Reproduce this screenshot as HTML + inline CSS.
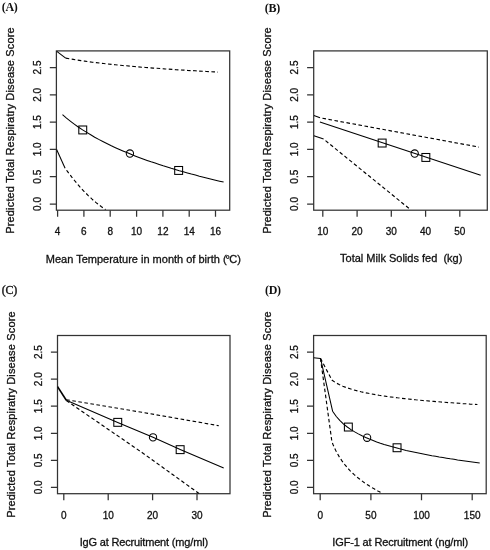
<!DOCTYPE html>
<html><head><meta charset="utf-8"><title>Figure</title>
<style>
html,body{margin:0;padding:0;background:#fff}
svg{display:block}
.t{font-family:"Liberation Sans",Arial,Helvetica,sans-serif;font-size:10px;fill:#111;stroke:#111;stroke-width:0.3px}
.l{font-family:"Liberation Sans",Arial,Helvetica,sans-serif;font-size:11px;fill:#111;stroke:#111;stroke-width:0.3px}
.p{font-family:"Liberation Serif","Times New Roman",serif;font-size:12px;letter-spacing:-0.3px;fill:#111}
</style></head><body>
<svg width="490" height="550" viewBox="0 0 490 550">
<rect width="490" height="550" fill="#fff"/>
<rect x="56.4" y="50.9" width="173.3" height="159.3" fill="none" stroke="#333" stroke-width="1.25"/>
<text class="t" transform="translate(40.6 204.0) rotate(-90)" text-anchor="middle">0.0</text>
<text class="t" transform="translate(40.6 176.7) rotate(-90)" text-anchor="middle">0.5</text>
<text class="t" transform="translate(40.6 149.4) rotate(-90)" text-anchor="middle">1.0</text>
<text class="t" transform="translate(40.6 122.1) rotate(-90)" text-anchor="middle">1.5</text>
<text class="t" transform="translate(40.6 94.8) rotate(-90)" text-anchor="middle">2.0</text>
<text class="t" transform="translate(40.6 67.5) rotate(-90)" text-anchor="middle">2.5</text>
<text class="t" x="57.6" y="235" text-anchor="middle">4</text>
<text class="t" x="83.9" y="235" text-anchor="middle">6</text>
<text class="t" x="110.2" y="235" text-anchor="middle">8</text>
<text class="t" x="136.6" y="235" text-anchor="middle">10</text>
<text class="t" x="162.9" y="235" text-anchor="middle">12</text>
<text class="t" x="189.2" y="235" text-anchor="middle">14</text>
<text class="t" x="215.5" y="235" text-anchor="middle">16</text>
<path d="M49.8 204.0H56.4M49.8 176.7H56.4M49.8 149.4H56.4M49.8 122.1H56.4M49.8 94.8H56.4M49.8 67.5H56.4M57.6 210.2V216.8M83.9 210.2V216.8M110.2 210.2V216.8M136.6 210.2V216.8M162.9 210.2V216.8M189.2 210.2V216.8M215.5 210.2V216.8" fill="none" stroke="#333" stroke-width="1.25"/>
<text class="l" transform="translate(14.3 130.5) rotate(-90)" text-anchor="middle" textLength="206.5" lengthAdjust="spacing">Predicted Total Respiratry Disease Score</text>
<text class="l" x="45.8" y="262.5" text-anchor="start" xml:space="preserve">Mean Temperature in month of birth (<tspan dx="-1.0">°</tspan><tspan dx="-0.8">C)</tspan></text>
<text class="p" x="1.8" y="11.2" font-weight="bold">(A)</text>
<clipPath id="cA"><rect x="56.4" y="50.9" width="173.3" height="159.3"/></clipPath><g clip-path="url(#cA)">
<path d="M62.5 114.7 L66.5 118.1 L70.6 121.3 L74.6 124.3 L78.6 127.2 L82.6 129.9 L86.7 132.4 L90.7 134.8 L94.7 137.2 L98.7 139.4 L102.8 141.5 L106.8 143.5 L110.8 145.5 L114.9 147.4 L118.9 149.2 L122.9 150.9 L126.9 152.6 L131.0 154.3 L135.0 155.9 L139.0 157.4 L143.1 158.9 L147.1 160.4 L151.1 161.8 L155.1 163.1 L159.2 164.5 L163.2 165.8 L167.2 167.0 L171.2 168.3 L175.3 169.5 L179.3 170.7 L183.3 171.8 L187.4 172.9 L191.4 174.1 L195.4 175.1 L199.4 176.2 L203.5 177.2 L207.5 178.2 L211.5 179.2 L215.5 180.2 L219.6 181.2 L223.6 182.1" fill="none" stroke="#000" stroke-width="1.05" stroke-linejoin="round"/>
<path d="M56.5 51.2 L65.7 58.1" fill="none" stroke="#000" stroke-width="1.05" stroke-linejoin="round"/>
<path d="M65.7 58.1 L69.5 58.8 L73.3 59.4 L77.1 60.0 L80.9 60.6 L84.7 61.1 L88.5 61.7 L92.3 62.2 L96.1 62.6 L99.9 63.1 L103.8 63.5 L107.6 64.0 L111.4 64.4 L115.2 64.7 L119.0 65.1 L122.8 65.5 L126.6 65.8 L130.4 66.2 L134.2 66.5 L138.0 66.9 L141.8 67.2 L145.6 67.5 L149.4 67.8 L153.2 68.1 L157.0 68.3 L160.8 68.6 L164.6 68.9 L168.4 69.1 L172.2 69.4 L176.0 69.7 L179.9 69.9 L183.7 70.1 L187.5 70.4 L191.3 70.6 L195.1 70.8 L198.9 71.1 L202.7 71.3 L206.5 71.5 L210.3 71.7 L214.1 71.9 L217.9 72.1" fill="none" stroke="#000" stroke-width="1.15" stroke-dasharray="3.6 2.5" stroke-dashoffset="0"/>
<path d="M56.5 149.2 L65.1 168.2" fill="none" stroke="#000" stroke-width="1.05" stroke-linejoin="round"/>
<path d="M65.1 168.2 L66.4 170.0 L67.8 171.9 L69.1 173.7 L70.5 175.4 L71.8 177.2 L73.2 178.9 L74.5 180.5 L75.9 182.2 L77.2 183.8 L78.6 185.3 L79.9 186.9 L81.3 188.4 L82.6 189.8 L84.0 191.3 L85.3 192.7 L86.7 194.0 L88.0 195.4 L89.4 196.7 L90.8 197.9 L92.1 199.2 L93.4 200.4 L94.8 201.5 L96.1 202.6 L97.5 203.7 L98.8 204.8 L100.2 205.8 L101.5 206.8 L102.9 207.8 L104.2 208.7 L105.6 209.6" fill="none" stroke="#000" stroke-width="1.15" stroke-dasharray="3.6 2.5" stroke-dashoffset="3.6"/>
</g>
<rect x="78.8" y="126.0" width="7.9" height="7.9" fill="none" stroke="#000" stroke-width="1.05"/>
<circle cx="129.9" cy="153.5" r="3.65" fill="none" stroke="#000" stroke-width="1.05"/>
<rect x="174.7" y="166.5" width="7.9" height="7.9" fill="none" stroke="#000" stroke-width="1.05"/>
<rect x="313.7" y="50.9" width="173.6" height="159.3" fill="none" stroke="#333" stroke-width="1.25"/>
<text class="t" transform="translate(297.8 204.0) rotate(-90)" text-anchor="middle">0.0</text>
<text class="t" transform="translate(297.8 176.7) rotate(-90)" text-anchor="middle">0.5</text>
<text class="t" transform="translate(297.8 149.4) rotate(-90)" text-anchor="middle">1.0</text>
<text class="t" transform="translate(297.8 122.1) rotate(-90)" text-anchor="middle">1.5</text>
<text class="t" transform="translate(297.8 94.8) rotate(-90)" text-anchor="middle">2.0</text>
<text class="t" transform="translate(297.8 67.5) rotate(-90)" text-anchor="middle">2.5</text>
<text class="t" x="322.8" y="235" text-anchor="middle">10</text>
<text class="t" x="357.1" y="235" text-anchor="middle">20</text>
<text class="t" x="391.3" y="235" text-anchor="middle">30</text>
<text class="t" x="425.6" y="235" text-anchor="middle">40</text>
<text class="t" x="459.8" y="235" text-anchor="middle">50</text>
<path d="M307.1 204.0H313.7M307.1 176.7H313.7M307.1 149.4H313.7M307.1 122.1H313.7M307.1 94.8H313.7M307.1 67.5H313.7M322.8 210.2V216.8M357.1 210.2V216.8M391.3 210.2V216.8M425.6 210.2V216.8M459.8 210.2V216.8" fill="none" stroke="#333" stroke-width="1.25"/>
<text class="l" transform="translate(271.0 130.5) rotate(-90)" text-anchor="middle" textLength="206.5" lengthAdjust="spacing">Predicted Total Respiratry Disease Score</text>
<text class="l" x="401.2" y="262" text-anchor="middle" textLength="122.3" lengthAdjust="spacing" xml:space="preserve">Total Milk Solids fed  (kg)</text>
<text class="p" x="264.8" y="11.6" font-weight="bold">(B)</text>
<clipPath id="cB"><rect x="313.7" y="50.9" width="173.6" height="159.3"/></clipPath><g clip-path="url(#cB)">
<path d="M319.9 122.0 L480.7 175.3" fill="none" stroke="#000" stroke-width="1.05" stroke-linejoin="round"/>
<path d="M313.9 115.6 L320.0 117.8" fill="none" stroke="#000" stroke-width="1.05" stroke-linejoin="round"/>
<path d="M320.0 117.8 L479.0 147.1" fill="none" stroke="#000" stroke-width="1.15" stroke-dasharray="3.6 2.5" stroke-dashoffset="3.6"/>
<path d="M313.9 135.8 L323.6 139.1" fill="none" stroke="#000" stroke-width="1.05" stroke-linejoin="round"/>
<path d="M323.6 139.1 L410.7 209.8" fill="none" stroke="#000" stroke-width="1.15" stroke-dasharray="3.6 2.5" stroke-dashoffset="3.6"/>
</g>
<rect x="378.2" y="139.1" width="7.9" height="7.9" fill="none" stroke="#000" stroke-width="1.05"/>
<circle cx="414.7" cy="153.5" r="3.65" fill="none" stroke="#000" stroke-width="1.05"/>
<rect x="421.9" y="153.5" width="7.9" height="7.9" fill="none" stroke="#000" stroke-width="1.05"/>
<rect x="57.5" y="335.5" width="172.5" height="158.2" fill="none" stroke="#333" stroke-width="1.25"/>
<text class="t" transform="translate(41.8 487.4) rotate(-90)" text-anchor="middle">0.0</text>
<text class="t" transform="translate(41.8 460.3) rotate(-90)" text-anchor="middle">0.5</text>
<text class="t" transform="translate(41.8 433.3) rotate(-90)" text-anchor="middle">1.0</text>
<text class="t" transform="translate(41.8 406.2) rotate(-90)" text-anchor="middle">1.5</text>
<text class="t" transform="translate(41.8 379.2) rotate(-90)" text-anchor="middle">2.0</text>
<text class="t" transform="translate(41.8 352.1) rotate(-90)" text-anchor="middle">2.5</text>
<text class="t" x="63.8" y="518.6" text-anchor="middle">0</text>
<text class="t" x="108.2" y="518.6" text-anchor="middle">10</text>
<text class="t" x="152.6" y="518.6" text-anchor="middle">20</text>
<text class="t" x="197.0" y="518.6" text-anchor="middle">30</text>
<path d="M50.9 487.4H57.5M50.9 460.3H57.5M50.9 433.3H57.5M50.9 406.2H57.5M50.9 379.2H57.5M50.9 352.1H57.5M63.8 493.7V500.3M108.2 493.7V500.3M152.6 493.7V500.3M197.0 493.7V500.3" fill="none" stroke="#333" stroke-width="1.25"/>
<text class="l" transform="translate(15.0 414.6) rotate(-90)" text-anchor="middle" textLength="206.5" lengthAdjust="spacing">Predicted Total Respiratry Disease Score</text>
<text class="l" x="143.9" y="545.6" text-anchor="middle" textLength="128.4" lengthAdjust="spacing" xml:space="preserve">IgG at Recruitment (mg/ml)</text>
<text class="p" x="1.8" y="293.5" font-weight="normal" stroke="#111" stroke-width="0.35">(C)</text>
<clipPath id="cC"><rect x="57.5" y="335.5" width="172.5" height="158.2"/></clipPath><g clip-path="url(#cC)">
<path d="M57.4 386.5 L66.3 400.3" fill="none" stroke="#000" stroke-width="1.6" stroke-linejoin="round"/>
<path d="M66.3 400.3 L117.7 422.4 L153.0 437.3 L180.2 449.4 L223.7 468.0" fill="none" stroke="#000" stroke-width="1.05" stroke-linejoin="round"/>
<path d="M66.3 399.7 L142.0 412.3 L218.8 425.7" fill="none" stroke="#000" stroke-width="1.15" stroke-dasharray="3.6 2.5" stroke-dashoffset="0"/>
<path d="M66.3 400.6 L142.0 452.5 L199.0 493.5" fill="none" stroke="#000" stroke-width="1.15" stroke-dasharray="3.6 2.5" stroke-dashoffset="0"/>
</g>
<rect x="113.8" y="418.4" width="7.9" height="7.9" fill="none" stroke="#000" stroke-width="1.05"/>
<circle cx="153" cy="437.3" r="3.65" fill="none" stroke="#000" stroke-width="1.05"/>
<rect x="176.2" y="445.7" width="7.9" height="7.9" fill="none" stroke="#000" stroke-width="1.05"/>
<rect x="313.6" y="335.5" width="172.6" height="158.2" fill="none" stroke="#333" stroke-width="1.25"/>
<text class="t" transform="translate(297.5 487.4) rotate(-90)" text-anchor="middle">0.0</text>
<text class="t" transform="translate(297.5 460.3) rotate(-90)" text-anchor="middle">0.5</text>
<text class="t" transform="translate(297.5 433.3) rotate(-90)" text-anchor="middle">1.0</text>
<text class="t" transform="translate(297.5 406.2) rotate(-90)" text-anchor="middle">1.5</text>
<text class="t" transform="translate(297.5 379.2) rotate(-90)" text-anchor="middle">2.0</text>
<text class="t" transform="translate(297.5 352.1) rotate(-90)" text-anchor="middle">2.5</text>
<text class="t" x="320.2" y="518.6" text-anchor="middle">0</text>
<text class="t" x="370.9" y="518.6" text-anchor="middle">50</text>
<text class="t" x="421.5" y="518.6" text-anchor="middle">100</text>
<text class="t" x="472.2" y="518.6" text-anchor="middle">150</text>
<path d="M307.0 487.4H313.6M307.0 460.3H313.6M307.0 433.3H313.6M307.0 406.2H313.6M307.0 379.2H313.6M307.0 352.1H313.6M320.2 493.7V500.3M370.9 493.7V500.3M421.5 493.7V500.3M472.2 493.7V500.3" fill="none" stroke="#333" stroke-width="1.25"/>
<text class="l" transform="translate(270.7 414.6) rotate(-90)" text-anchor="middle" textLength="206.5" lengthAdjust="spacing">Predicted Total Respiratry Disease Score</text>
<text class="l" x="400.3" y="545.6" text-anchor="middle" textLength="135.9" lengthAdjust="spacing" xml:space="preserve">IGF-1 at Recruitment (ng/ml)</text>
<text class="p" x="265" y="293.7" font-weight="bold">(D)</text>
<clipPath id="cD"><rect x="313.6" y="335.5" width="172.6" height="158.2"/></clipPath><g clip-path="url(#cD)">
<path d="M313.6 357.8 L320.5 358.4 L332.6 411.2 L332.6 411.2 L336.3 416.5 L340.0 420.6 L343.6 424.1 L347.3 427.0 L351.0 429.6 L354.7 431.9 L358.3 433.9 L362.0 435.8 L365.7 437.5 L369.4 439.1 L373.1 440.5 L376.7 441.9 L380.4 443.2 L384.1 444.4 L387.8 445.5 L391.4 446.6 L395.1 447.6 L398.8 448.6 L402.5 449.5 L406.1 450.4 L409.8 451.2 L413.5 452.0 L417.2 452.8 L420.9 453.6 L424.5 454.3 L428.2 455.0 L431.9 455.7 L435.6 456.3 L439.2 457.0 L442.9 457.6 L446.6 458.2 L450.3 458.8 L454.0 459.3 L457.6 459.9 L461.3 460.4 L465.0 460.9 L468.7 461.4 L472.3 461.9 L476.0 462.4 L479.7 462.9" fill="none" stroke="#000" stroke-width="1.05" stroke-linejoin="round"/>
<path d="M320.5 358.4 L331.9 380.0 L331.9 380.0 L335.5 382.6 L339.2 384.6 L342.8 386.2 L346.4 387.6 L350.1 388.8 L353.7 389.9 L357.4 390.9 L361.0 391.8 L364.6 392.6 L368.3 393.3 L371.9 394.0 L375.5 394.7 L379.2 395.3 L382.8 395.8 L386.5 396.4 L390.1 396.9 L393.7 397.3 L397.4 397.8 L401.0 398.2 L404.6 398.6 L408.3 399.0 L411.9 399.4 L415.6 399.8 L419.2 400.1 L422.8 400.5 L426.5 400.8 L430.1 401.1 L433.8 401.4 L437.4 401.7 L441.0 402.0 L444.7 402.3 L448.3 402.6 L451.9 402.8 L455.6 403.1 L459.2 403.3 L462.8 403.6 L466.5 403.8 L470.1 404.1 L473.8 404.3 L477.4 404.5" fill="none" stroke="#000" stroke-width="1.15" stroke-dasharray="3.6 2.5" stroke-dashoffset="0"/>
<path d="M320.5 358.4 L331.9 441.7 L331.9 441.7 L333.1 444.8 L334.4 447.6 L335.6 450.2 L336.9 452.6 L338.1 454.8 L339.3 456.9 L340.6 458.8 L341.8 460.6 L343.1 462.4 L344.3 464.0 L345.5 465.5 L346.8 467.0 L348.0 468.4 L349.3 469.8 L350.5 471.1 L351.7 472.3 L353.0 473.5 L354.2 474.6 L355.5 475.7 L356.7 476.8 L357.9 477.8 L359.2 478.8 L360.4 479.8 L361.7 480.7 L362.9 481.6 L364.1 482.5 L365.4 483.4 L366.6 484.2 L367.9 485.0 L369.1 485.8 L370.3 486.6 L371.6 487.4 L372.8 488.1 L374.1 488.8 L375.3 489.5 L376.5 490.2 L377.8 490.9 L379.0 491.5 L380.3 492.2 L381.5 492.8" fill="none" stroke="#000" stroke-width="1.15" stroke-dasharray="3.6 2.5" stroke-dashoffset="0"/>
</g>
<rect x="344.4" y="423.1" width="7.9" height="7.9" fill="none" stroke="#000" stroke-width="1.05"/>
<circle cx="367.1" cy="437.7" r="3.65" fill="none" stroke="#000" stroke-width="1.05"/>
<rect x="393.1" y="443.8" width="7.9" height="7.9" fill="none" stroke="#000" stroke-width="1.05"/>
</svg>
</body></html>
